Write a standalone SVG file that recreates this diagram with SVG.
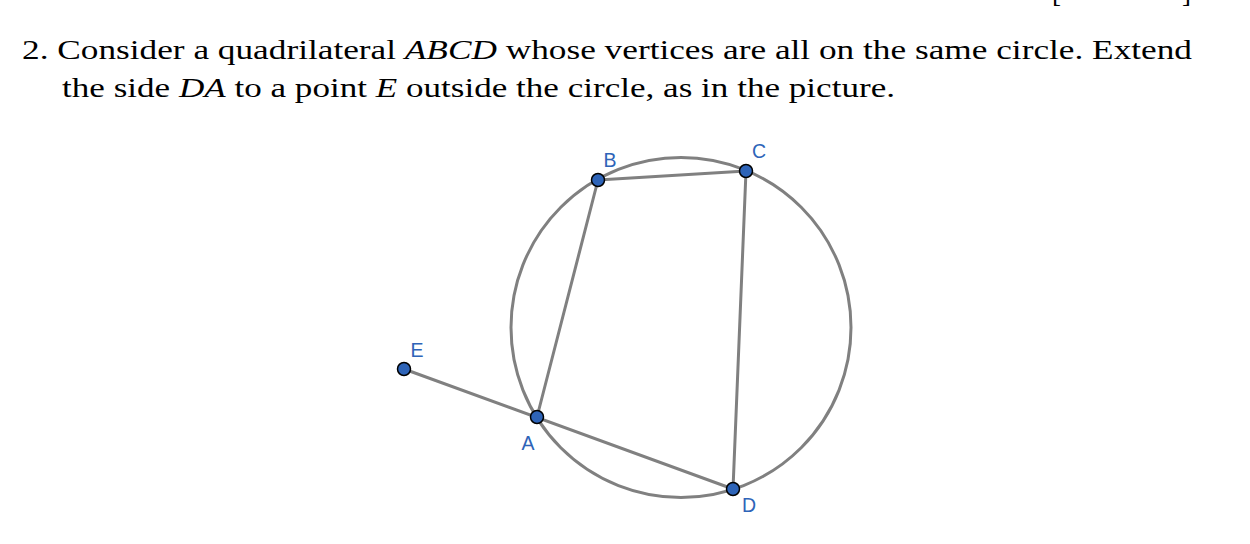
<svg xmlns="http://www.w3.org/2000/svg" width="1250" height="544" viewBox="0 0 1250 544">
<style>
.t{font-family:"Liberation Serif","Times New Roman",serif;font-size:27px;fill:#000}
.i{font-style:italic}
.seg{stroke:#808080;stroke-width:3;fill:none;stroke-linecap:round}
.pt{fill:#2e64b8;stroke:#000;stroke-width:1.5}
.lb{font-family:"Liberation Sans",Arial,sans-serif;font-size:19.5px;fill:#2e64b8;text-anchor:middle}
</style>
<rect width="1250" height="544" fill="#fff"/>
<text class="t" x="1052" y="2">[</text>
<text class="t" x="1182" y="2">]</text>
<g id="question">
<text class="t" x="22" y="59" textLength="1170" lengthAdjust="spacingAndGlyphs">2. Consider a quadrilateral <tspan class="i">ABCD</tspan> whose vertices are all on the same circle. Extend</text>
<text class="t" x="62" y="97" textLength="833" lengthAdjust="spacingAndGlyphs">the side <tspan class="i">DA</tspan> to a point <tspan class="i">E</tspan> outside the circle, as in the picture.</text>
</g>
<g id="circle">
<circle cx="681" cy="327.5" r="170" fill="none" stroke="#808080" stroke-width="3"/>
</g>
<g id="connectors">
<line class="seg" x1="598" y1="180" x2="746" y2="171"/>
<line class="seg" x1="746" y1="171" x2="733" y2="489"/>
<line class="seg" x1="598" y1="180" x2="537" y2="417"/>
<line class="seg" x1="404" y1="369" x2="733" y2="489"/>
</g>
<g id="B"><circle class="pt" cx="598" cy="180" r="6.5"/><text class="lb" x="610" y="166.5">B</text></g>
<g id="C"><circle class="pt" cx="746" cy="171" r="6.5"/><text class="lb" x="759" y="158">C</text></g>
<g id="E"><circle class="pt" cx="404" cy="369" r="6.5"/><text class="lb" x="417" y="357">E</text></g>
<g id="A"><circle class="pt" cx="537" cy="417" r="6.5"/><text class="lb" x="528" y="450">A</text></g>
<g id="D"><circle class="pt" cx="733" cy="489" r="6.5"/><text class="lb" x="749" y="512">D</text></g>
</svg>
